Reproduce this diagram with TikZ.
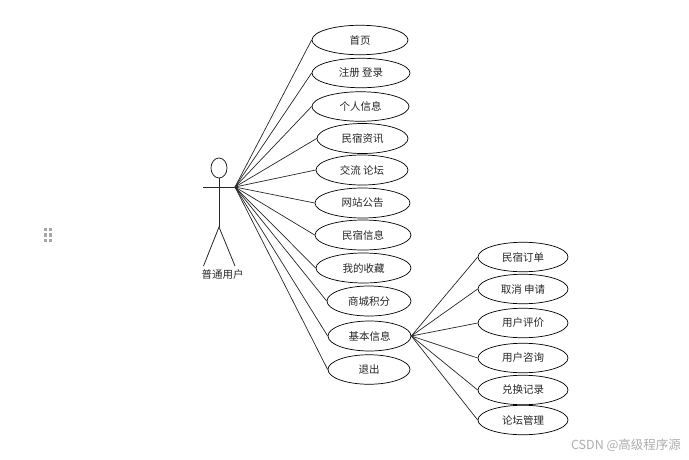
\documentclass[tikz,border=0pt]{standalone}
\usepackage{fontspec}
\setmainfont{Noto Sans CJK SC}
\newfontfamily\wmfont{Noto Sans CJK SC}
\usetikzlibrary{shapes.geometric}
\tikzset{
  x=1pt,y=-1pt,
  uc/.style={draw=black,line width=0.7pt,ellipse,inner sep=0pt,font=\fontsize{10.5}{12}\selectfont,text=black!85},
  link/.style={draw=black!85,line width=0.7pt},
  actorline/.style={draw=black!85,line width=0.8pt},
  dot/.style={fill=black!35,draw=none,inner sep=0pt,minimum size=3.2pt,rectangle},
}
\begin{document}
\begin{tikzpicture}
\useasboundingbox (0,0) rectangle (689,459);
\newcommand{\ucnode}[6]{\node[uc,minimum width=#4pt,minimum height=#5pt] (#1) at (#2,#3) {#6};}
\ucnode{a}{360}{40}{96}{29.5}{首页}
\ucnode{b}{361}{73}{98}{29.5}{注册 登录}
\ucnode{c}{360.5}{106.5}{97}{29.5}{个人信息}
\ucnode{d}{362.5}{138.5}{91}{30}{民宿资讯}
\ucnode{e}{362}{170}{92}{30}{交流 论坛}
\ucnode{f}{362.5}{203}{95}{30}{网站公告}
\ucnode{g}{363}{235}{96}{30}{民宿信息}
\ucnode{h}{363.5}{268}{95}{30}{我的收藏}
\ucnode{i}{369}{301}{84}{30}{商城积分}
\ucnode{j}{369.5}{336}{83}{30}{基本信息}
\ucnode{k}{369}{369.5}{82}{29.5}{退出}
\ucnode{p}{523}{257}{90}{29.5}{民宿订单}
\ucnode{q}{523}{289}{90}{29.5}{取消 申请}
\ucnode{r}{523}{323}{90}{29.5}{用户评价}
\ucnode{s}{523}{358}{90}{29.5}{用户咨询}
\ucnode{t}{523}{390}{90}{29.5}{兑换记录}
\ucnode{u}{523}{420}{90}{29.5}{论坛管理}
% actor
\node[draw=black!85,line width=0.8pt,ellipse,minimum width=16pt,minimum height=20pt,inner sep=0pt] (head) at (219,168) {};
\coordinate (hub) at (235,187);
\coordinate (armL) at (203,187);
\coordinate (hip) at (219,227);
\coordinate (legL) at (203.5,266);
\coordinate (legR) at (235,266);
\draw[actorline] (armL) -- (hub);
\draw[actorline] (head.south) -- (hip);
\draw[actorline] (legL) -- (hip) -- (legR);
\node[font=\fontsize{10.5}{12}\selectfont,text=black!85] (actor) at (222.5,275) {普通用户};
% connectors
\foreach \n in {a,b,c,d,e,f,g,h,i,j,k} \draw[link] (hub) -- (\n.west);
\coordinate (hubtwo) at (j.east);
\foreach \n in {p,q,r,s,t,u} \draw[link] (hubtwo) -- (\n.west);
% drag handle
\foreach \px/\py [count=\c] in {45.3/229.5,50.5/229.5,45.3/235,50.5/235,45.3/240.5,50.5/240.5}
  \node[dot] (dot\c) at (\px,\py) {};
% watermark
\node[font=\wmfont\fontsize{12.5}{14}\selectfont,text=black!32] (wm) at (626,445) {CSDN @高级程序源};
\end{tikzpicture}
\end{document}
